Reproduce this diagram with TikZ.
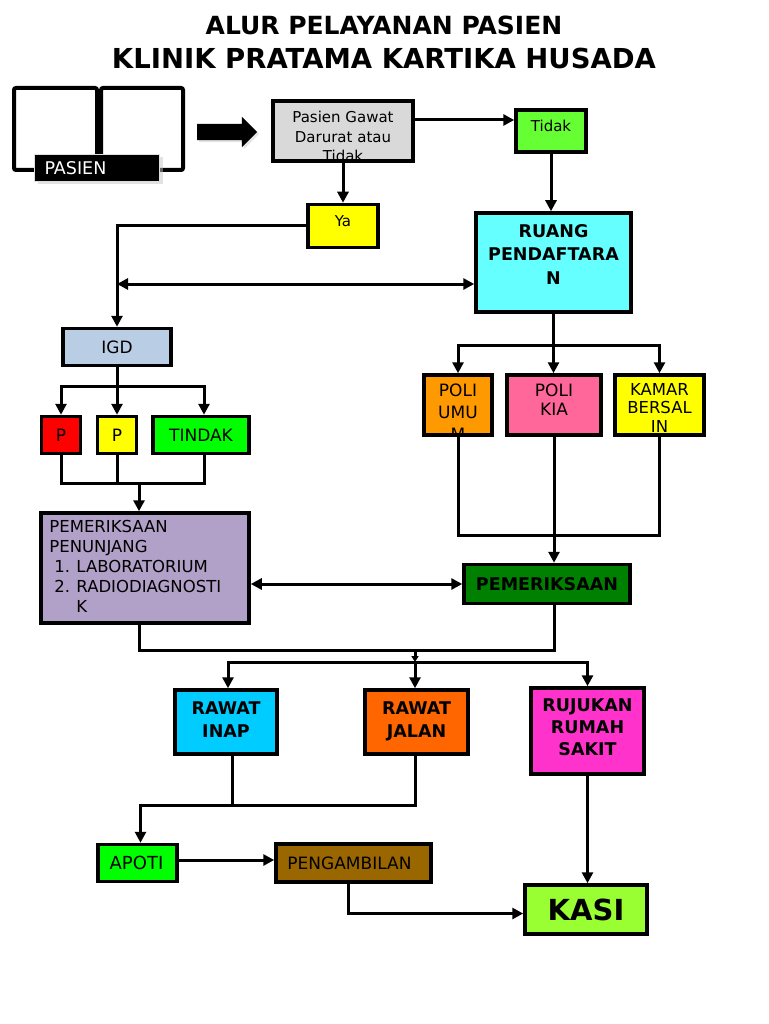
\documentclass[tikz,border=0pt]{standalone}
\usepackage{fontspec}
\setmainfont{DejaVu Sans}
\usetikzlibrary{positioning,arrows.meta,shapes.arrows,shadows}

\definecolor{abu}{HTML}{D9D9D9}
\definecolor{hijaumuda}{HTML}{66FF33}
\definecolor{kuning}{HTML}{FFFF00}
\definecolor{cyanmuda}{HTML}{66FFFF}
\definecolor{biruigd}{HTML}{B9CDE5}
\definecolor{merah}{HTML}{FF0000}
\definecolor{hijau}{HTML}{00FF00}
\definecolor{ungu}{HTML}{B1A0C7}
\definecolor{oranye}{HTML}{FF9900}
\definecolor{pink}{HTML}{FF6699}
\definecolor{hijautua}{HTML}{008000}
\definecolor{biruinap}{HTML}{00CCFF}
\definecolor{oranyetua}{HTML}{FF6600}
\definecolor{magenta2}{HTML}{FF33CC}
\definecolor{coklat}{HTML}{996600}
\definecolor{hijaukasi}{HTML}{99FF33}

\tikzset{
	box/.style={draw=black, line width=3.5pt, inner sep=0pt},
	txt/.style={inner sep=0pt, align=center, font=\fontsize{17}{21}\selectfont},
	txtsm/.style={txt, font=\fontsize{15}{19.5}\selectfont},
	tbold/.style={txt, font=\fontsize{17.5}{23.5}\selectfont\bfseries},
	conn/.style={line width=3pt},
	arr/.style={conn, -{Triangle[length=11pt,width=11pt]}},
	darr/.style={conn, {Triangle[length=11pt,width=11pt]}-{Triangle[length=11pt,width=11pt]}},
}

\begin{document}
\begin{tikzpicture}[x=1pt, y=-1pt]
	\useasboundingbox (0,0) rectangle (768,1024);
	% judul
	\node[font=\fontsize{25}{28}\selectfont\bfseries] (judul1) at (384,25) {ALUR PELAYANAN PASIEN};
	\node[font=\fontsize{27.5}{30}\selectfont\bfseries] (judul2) at (384,58) {KLINIK PRATAMA KARTIKA HUSADA};
	% ikon pasien
	\draw[line width=4pt, rounded corners=2pt] (14,88) rectangle (97,170);
	\draw[line width=4pt, rounded corners=2pt] (101,88) rectangle (183,170);
	\node[fill=black, draw=gray!25, line width=1pt, minimum width=125pt, minimum height=27pt, inner xsep=10pt, text width=105pt, align=left, text=white, font=\fontsize{17.5}{19}\selectfont, drop shadow={fill=gray!45, shadow xshift=3pt, shadow yshift=-3pt}] (pasien) at (97,168) {PASIEN};
	\node[single arrow, fill=black, minimum height=60pt, inner sep=8pt, single arrow head extend=7pt, drop shadow={fill=gray!40, shadow xshift=2pt, shadow yshift=-2pt}] (panah) at (223,132) {};

	% kotak
	\node[box, fill=abu, minimum width=140pt, minimum height=60pt] (gawat) at (343,131) {};
	\node[box, fill=hijaumuda, minimum width=70pt, minimum height=42pt] (tidak) at (551,131) {};
	\node[box, fill=kuning, minimum width=70pt, minimum height=43pt] (ya) at (343,226) {};
	\node[box, fill=cyanmuda, minimum width=155pt, minimum height=99pt] (ruang) at (553.5,262.5) {};
	\node[box, fill=biruigd, minimum width=108pt, minimum height=37pt] (igd) at (117,347) {};
	\node[box, fill=merah, minimum width=39pt, minimum height=37pt] (pm) at (61,435) {};
	\node[box, fill=kuning, minimum width=39pt, minimum height=37pt] (pk) at (117,435) {};
	\node[box, fill=hijau, minimum width=96pt, minimum height=37pt] (tindak) at (201,435) {};
	\node[box, fill=ungu, minimum width=208pt, minimum height=110pt] (penunjang) at (145,568) {};
	\node[box, fill=oranye, minimum width=68pt, minimum height=60pt] (umum) at (458,405) {};
	\node[box, fill=pink, minimum width=94pt, minimum height=60pt] (kia) at (554,405) {};
	\node[box, fill=kuning, minimum width=89pt, minimum height=60pt] (bersalin) at (659.5,405) {};
	\node[box, fill=hijautua, minimum width=166pt, minimum height=39pt] (periksa) at (547,584) {};
	\node[box, fill=biruinap, minimum width=102pt, minimum height=64pt] (inap) at (226,722) {};
	\node[box, fill=oranyetua, minimum width=103pt, minimum height=64pt] (jalan) at (416.5,722) {};
	\node[box, fill=magenta2, minimum width=113pt, minimum height=86pt] (rujukan) at (587.5,731) {};
	\node[box, fill=hijau, minimum width=79pt, minimum height=37pt] (apoti) at (137.5,863) {};
	\node[box, fill=coklat, minimum width=155pt, minimum height=38pt] (ambil) at (353.5,863) {};
	\node[box, fill=hijaukasi, minimum width=122pt, minimum height=49pt] (kasi) at (586,909.5) {};

	% teks
	\begin{scope}
		\clip ([xshift=1.75pt,yshift=1.75pt]gawat.south west) rectangle ([xshift=-1.75pt,yshift=-1.75pt]gawat.north east);
		\node[txtsm, below=12pt of gawat.north] (gawatT) {Pasien Gawat\\Darurat atau\\Tidak};
	\end{scope}
	\node[txtsm, below=12pt of tidak.north] (tidakT) {Tidak};
	\node[txtsm, below=13pt of ya.north] (yaT) {Ya};
	\node[tbold, below=13pt of ruang.north] (ruangT) {RUANG\\PENDAFTARA\\N};
	\node[txt] (igdT) at (igd) {IGD};
	\node[txt] (pmT) at (pm) {P};
	\node[txt] (pkT) at (pk) {P};
	\node[txt] (tindakT) at (tindak) {TINDAK};
	\node[txt, align=left, anchor=north west, font=\fontsize{16.5}{20}\selectfont] (penunjangT) at ([xshift=10pt,yshift=-9pt]penunjang.north west) {PEMERIKSAAN\\PENUNJANG\\\hspace*{5pt}\makebox[22pt][l]{1.}LABORATORIUM\\\hspace*{5pt}\makebox[22pt][l]{2.}RADIODIAGNOSTI\\\hspace*{27pt}K};
	\begin{scope}
		\clip ([xshift=1.75pt,yshift=1.75pt]umum.south west) rectangle ([xshift=-1.75pt,yshift=-1.75pt]umum.north east);
		\node[txt, below=10pt of umum.north, font=\fontsize{17}{22}\selectfont] (umumT) {POLI\\UMU\\M};
	\end{scope}
	\node[txt, below=10pt of kia.north, font=\fontsize{17}{19}\selectfont] (kiaT) {POLI\\KIA};
	\begin{scope}
		\clip ([xshift=1.75pt,yshift=1.75pt]bersalin.south west) rectangle ([xshift=-1.75pt,yshift=-1.75pt]bersalin.north east);
		\node[txt, below=10pt of bersalin.north, font=\fontsize{16.5}{18.5}\selectfont] (bersalinT) {KAMAR\\BERSAL\\IN};
	\end{scope}
	\node[tbold] (periksaT) at (periksa) {PEMERIKSAAN};
	\node[tbold, below=13pt of inap.north] (inapT) {RAWAT\\INAP};
	\node[tbold, below=13pt of jalan.north] (jalanT) {RAWAT\\JALAN};
	\node[tbold, below=12pt of rujukan.north, font=\fontsize{17.5}{22}\selectfont\bfseries] (rujukanT) {RUJUKAN\\RUMAH\\SAKIT};
	\node[txt, font=\fontsize{18}{21}\selectfont] (apotiT) at ([xshift=-1pt]apoti.center) {APOTI};
	\node[txt] (ambilT) at ([xshift=-4pt]ambil.center) {PENGAMBILAN};
	\node[txt, font=\fontsize{29}{32}\selectfont\bfseries] (kasiT) at (kasi) {KASI};

	% garis penghubung
	\draw[arr] ([yshift=11pt]gawat.east) -- ([yshift=11pt]gawat.east -| tidak.west);
	\draw[arr] (tidak.south) -- (tidak.south |- ruang.north);
	\draw[arr] (gawat.south) -- (ya.north);
	\draw[arr] (ya.west) -| (igd.north);
	\coordinate (igdin) at (igd.north |- 0,284);
	\draw[darr] (igdin) -- (igdin -| ruang.west);

	\coordinate (rsplit) at (ruang.south |- 0,345);
	\draw[conn] (ruang.south) -- (rsplit);
	\draw[arr] (rsplit) -| (umum.north);
	\draw[arr] (rsplit) -| (bersalin.north);
	\draw[arr] (rsplit) -- (rsplit |- kia.north);
	\coordinate (pjoin) at (kia.south |- 0,535);
	\draw[conn] (umum.south) |- (pjoin) -| (bersalin.south);
	\draw[arr] (kia.south) -- (kia.south |- periksa.north);
	\draw[darr] (periksa.west) -- (periksa.west -| penunjang.east);

	\coordinate (isplit) at (igd.south |- 0,386);
	\draw[conn] (igd.south) -- (isplit);
	\draw[arr] (isplit) -| (pm.north);
	\draw[arr] (isplit) -- (isplit |- pk.north);
	\draw[arr] (isplit) -| ([xshift=3pt]tindak.north);
	\coordinate (ijoin) at (139,483);
	\draw[conn] (pm.south) |- (ijoin) -| ([xshift=3pt]tindak.south);
	\draw[conn] (pk.south) -- (pk.south |- ijoin);
	\draw[arr] (ijoin) -- (ijoin |- penunjang.north);

	\coordinate (penout) at ([xshift=-6pt]penunjang.south);
	\coordinate (perout) at (kia.south |- periksa.south);
	\coordinate (bjoin) at (415,650);
	\draw[conn] (penout) |- (bjoin) -| (perout);
	\coordinate (hsplit) at (415,662);
	\draw[conn, -{Triangle[length=6pt,width=7pt]}] (bjoin) -- (hsplit);
	\draw[arr] (hsplit) -| ([xshift=2pt]inap.north);
	\draw[arr] (hsplit) -- (hsplit |- jalan.north);
	\draw[arr] (hsplit) -| (rujukan.north);

	\coordinate (rjoin) at (hsplit |- 0,805);
	\draw[arr] (hsplit |- jalan.south) -- (rjoin) -| ([xshift=3pt]apoti.north);
	\draw[conn] ([xshift=6pt]inap.south) -- ([xshift=6pt]inap.south |- rjoin);
	\draw[arr] ([yshift=3pt]apoti.east) -- ([yshift=3pt]apoti.east -| ambil.west);
	\draw[arr] ([xshift=-5pt]ambil.south) |- ([yshift=-4pt]kasi.west);
	\draw[arr] (rujukan.south) -- (rujukan.south |- kasi.north);
\end{tikzpicture}
\end{document}
